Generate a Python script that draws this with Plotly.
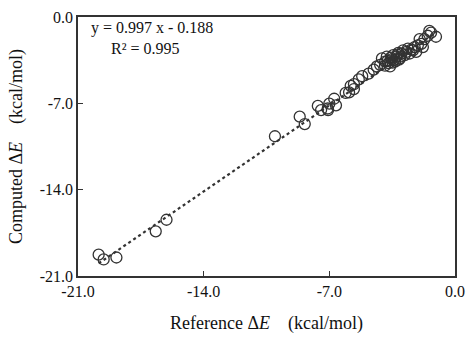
import plotly.graph_objects as go
import numpy as np

ref_x = [-19.85, -19.57, -18.86, -16.67, -16.07, -10.03, -8.65, -8.37, -7.64, -7.46,
         -7.09, -7.00, -6.73, -6.63, -7.07, -5.90, -5.63, -6.09, -5.81, -5.63,
         -5.36, -5.17, -4.81, -4.53, -4.35, -4.17, -3.89, -3.80, -3.71, -3.53,
         -3.44, -3.25, -3.16, -2.98, -2.89, -2.70, -2.62, -2.43, -2.25, -2.16,
         -2.07, -1.88, -1.79, -1.70, -1.52, -1.33, -1.06, -1.97, -4.07, -3.62,
         -3.34, -3.07, -2.80, -2.52, -2.34, -1.43, -3.75, -3.58, -3.40, -3.20,
         -3.02, -3.90, -3.48, -3.12]
comp_y = [-19.27, -19.66, -19.50, -17.38, -16.44, -9.67, -8.08, -8.68, -7.21, -7.55,
          -7.42, -7.02, -6.63, -7.16, -7.55, -6.11, -5.84, -6.16, -5.58, -5.45,
          -5.06, -4.80, -4.59, -4.27, -4.01, -3.88, -3.62, -3.22, -3.75, -3.43,
          -3.09, -3.22, -2.91, -2.96, -2.70, -2.83, -2.57, -2.65, -2.44, -2.83,
          -2.30, -2.18, -2.44, -1.79, -1.52, -1.26, -1.60, -1.79, -3.36, -4.01,
          -3.62, -3.36, -3.09, -2.96, -2.70, -1.13, -3.55, -3.30, -3.50, -3.05,
          -3.20, -3.95, -3.70, -3.45]
slope = 0.997
intercept = -0.188
tick_vals = [-21.0, -14.0, -7.0, 0.0]
tick_text = ["-21.0", "-14.0", "-7.0", "0.0"]

fit_x = [min(ref_x), max(ref_x)]
fit_y = [slope * v + intercept for v in fit_x]

font = "Liberation Serif"
fig = go.Figure()
fig.add_trace(go.Scatter(x=fit_x, y=fit_y, mode="lines",
                         line=dict(color="#333333", width=2.2, dash="dot"),
                         showlegend=False, hoverinfo="skip"))
fig.add_trace(go.Scatter(x=ref_x, y=comp_y, mode="markers",
                         marker=dict(symbol="circle-open", size=11,
                                     color="#333333", line=dict(width=1.3)),
                         showlegend=False))

axis_common = dict(range=[-21, 0], tickvals=tick_vals, ticktext=tick_text,
                   ticks="inside", ticklen=5, tickwidth=1.2, tickcolor="#333333",
                   showline=True, linecolor="#333333", linewidth=1.5, mirror=True,
                   showgrid=False, zeroline=False,
                   tickfont=dict(family=font, size=16, color="#111111"))

sp = "\u00a0" * 4
fig.update_xaxes(**axis_common,
                 title=dict(text=f"Reference Δ<i>E</i>{sp}(kcal/mol)",
                            font=dict(family=font, size=18, color="#111111"),
                            standoff=17))
fig.update_yaxes(**axis_common,
                 title=dict(text=f"Computed Δ<i>E</i>{sp}(kcal/mol)",
                            font=dict(family=font, size=18, color="#111111"),
                            standoff=12))

fig.add_annotation(xref="paper", yref="paper", x=0.03, y=1.0, xanchor="left", yanchor="top",
                   text=f"y = {slope} x - {abs(intercept)}<br>\u00a0\u00a0\u00a0\u00a0\u00a0R² = 0.995",
                   showarrow=False, align="left",
                   font=dict(family=font, size=16, color="#111111"))

fig.update_layout(width=474, height=345, margin=dict(l=78, r=13, t=9, b=69),
                  plot_bgcolor="white", paper_bgcolor="white")
fig.write_html("out.html")
